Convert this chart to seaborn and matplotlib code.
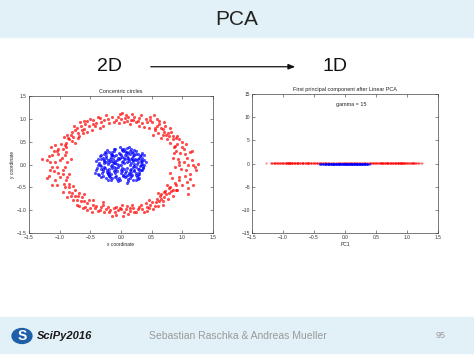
import matplotlib
matplotlib.use("Agg")
import matplotlib.pyplot as plt
import matplotlib.patches as mpatches
import seaborn as sns
import pandas as pd

# ---- data: outer ring (class 0, red) ----
red_points = [
    (1.02, 0.05), (1.10, -0.02), (0.93, 0.12), (1.15, 0.10), (0.98, -0.10), (1.05, 0.22), (0.90, 0.30), (1.12, -0.20),
    (0.95, -0.28), (1.20, -0.05), (0.88, -0.05), (1.03, 0.35), (1.08, -0.38), (0.92, 0.45), (1.00, -0.45), (1.10, -0.65),
    (1.18, 0.00), (0.97, 0.25), (1.06, -0.12),
    (0.85, 0.55), (0.78, 0.62), (0.92, 0.62), (0.70, 0.72), (0.75, 0.55), (0.65, 0.80), (0.58, 0.85), (0.62, 0.95),
    (0.50, 0.92), (0.45, 0.80), (0.40, 1.00), (0.55, 0.75), (0.82, 0.72), (0.68, 0.65), (0.35, 0.90), (0.30, 1.02),
    (0.48, 1.05), (0.88, 0.40), (0.72, 0.85), (0.60, 0.70),
    (0.20, 0.98), (0.12, 1.05), (0.05, 0.92), (-0.02, 1.10), (-0.08, 0.98), (0.15, 0.88), (0.25, 0.92), (-0.15, 1.05),
    (0.00, 1.00), (0.08, 1.08), (-0.20, 0.90), (0.18, 1.10),
    (-0.28, 0.98), (-0.35, 1.02), (-0.40, 0.90), (-0.45, 0.98), (-0.52, 0.85), (-0.55, 0.95), (-0.60, 0.78), (-0.65, 0.85),
    (-0.70, 0.70), (-0.72, 0.80), (-0.78, 0.60), (-0.80, 0.72), (-0.85, 0.55), (-0.75, 0.48), (-0.68, 0.62), (-0.30, 0.85),
    (-0.48, 0.75), (-0.88, 0.65), (-0.62, 0.68), (-0.90, 0.48),
    (-0.95, 0.35), (-1.05, 0.30), (-1.12, 0.20), (-0.92, 0.20), (-1.00, 0.10), (-1.15, 0.05), (-0.88, 0.05), (-1.28, 0.13),
    (-1.05, -0.05), (-0.95, -0.12), (-1.10, -0.15), (-1.18, -0.25), (-0.85, -0.20), (-1.00, -0.28), (-1.13, -0.45),
    (-0.90, -0.35), (-1.08, 0.42), (-0.98, 0.45), (-1.20, 0.10), (-0.93, -0.42),
    (-0.85, -0.50), (-0.80, -0.62), (-0.75, -0.55), (-0.88, -0.72), (-0.70, -0.70), (-0.65, -0.80), (-0.60, -0.65),
    (-0.72, -0.88), (-0.55, -0.85), (-0.50, -0.95), (-0.45, -0.78), (-0.40, -0.90), (-0.35, -1.00), (-0.30, -0.88),
    (-0.62, -0.95), (-0.78, -0.78), (-0.48, -1.05), (-0.95, -0.60), (-0.25, -0.98), (-0.20, -1.05),
    (-0.12, -0.95), (-0.08, -1.10), (0.00, -0.98), (0.05, -1.05), (0.10, -0.90), (0.15, -1.02), (-0.15, -1.12),
    (0.20, -0.95), (0.02, -0.88), (-0.05, -1.00),
    (0.25, -1.05), (0.30, -0.92), (0.35, -0.98), (0.40, -0.85), (0.45, -0.95), (0.50, -0.82), (0.55, -0.90), (0.58, -0.75),
    (0.62, -0.80), (0.65, -0.65), (0.70, -0.72), (0.72, -0.58), (0.78, -0.62), (0.80, -0.50), (0.85, -0.55), (0.88, -0.40),
    (0.75, -0.45), (0.60, -0.62), (0.42, -1.02), (0.92, -0.55), (0.68, -0.88),
    (1.15, 0.30), (0.85, 0.15), (1.22, -0.12), (0.80, -0.18), (1.08, 0.15), (0.95, 0.05), (1.13, -0.32), (0.87, 0.38),
    (1.00, 0.50), (0.83, -0.30), (1.17, -0.45), (0.90, -0.55), (1.04, -0.25), (0.99, 0.38), (1.12, 0.28), (1.06, 0.45),
    (0.94, -0.02), (1.25, 0.02), (1.09, -0.52), (0.86, 0.25),
    (0.95, 0.55), (0.80, 0.80), (0.70, 0.92), (0.58, 1.00), (0.52, 0.65), (0.66, 0.58), (0.77, 0.70), (0.43, 0.92),
    (0.38, 0.82), (0.33, 1.08), (0.62, 0.88), (0.85, 0.62), (0.74, 0.64), (0.56, 0.80), (0.47, 0.98), (0.28, 0.95),
    (0.90, 0.58), (0.68, 0.78), (0.80, 0.48), (0.53, 1.08),
    (0.22, 1.05), (0.10, 0.95), (-0.05, 1.05), (-0.12, 0.92), (0.02, 1.12), (0.30, 0.85), (-0.22, 1.00), (0.16, 0.98),
    (-0.03, 0.90), (0.07, 1.02),
    (-0.25, 1.08), (-0.32, 0.92), (-0.38, 1.05), (-0.42, 0.85), (-0.50, 1.00), (-0.58, 0.88), (-0.63, 0.75), (-0.67, 0.92),
    (-0.75, 0.75), (-0.82, 0.65), (-0.77, 0.85), (-0.87, 0.58), (-0.93, 0.60), (-0.70, 0.58), (-0.55, 0.72), (-0.45, 0.88),
    (-0.80, 0.52), (-0.60, 0.95), (-0.35, 0.80), (-0.92, 0.42),
    (-1.02, 0.35), (-1.10, 0.30), (-0.90, 0.28), (-1.18, 0.18), (-0.97, 0.15), (-1.08, 0.05), (-0.82, 0.12), (-1.13, -0.05),
    (-0.92, -0.05), (-1.02, -0.18), (-1.15, -0.12), (-0.88, -0.28), (-1.07, -0.35), (-0.95, -0.20), (-1.20, -0.30),
    (-0.85, -0.42), (-1.02, 0.22), (-1.14, 0.38), (-0.90, 0.38), (-1.05, -0.45),
    (-0.92, -0.50), (-0.82, -0.70), (-0.78, -0.48), (-0.68, -0.62), (-0.72, -0.78), (-0.63, -0.72), (-0.58, -0.92),
    (-0.52, -0.78), (-0.45, -0.88), (-0.38, -1.02), (-0.42, -0.95), (-0.33, -0.92), (-0.28, -1.05), (-0.68, -0.90),
    (-0.85, -0.60), (-0.55, -1.00), (-0.75, -0.68), (-0.60, -0.80), (-0.30, -0.82), (-0.22, -0.92),
    (-0.18, -1.00), (-0.10, -1.05), (0.03, -1.12), (0.08, -0.98), (0.12, -1.08), (0.18, -0.88), (-0.02, -0.95),
    (0.22, -1.05), (-0.08, -0.92), (0.14, -0.96),
    (0.28, -0.98), (0.33, -0.88), (0.38, -1.05), (0.42, -0.92), (0.48, -0.88), (0.52, -0.98), (0.57, -0.82), (0.60, -0.90),
    (0.65, -0.75), (0.68, -0.80), (0.73, -0.65), (0.76, -0.75), (0.82, -0.58), (0.85, -0.68), (0.90, -0.45), (0.78, -0.52),
    (0.70, -0.60), (0.63, -0.68), (0.45, -0.78), (0.95, -0.35),
]

# ---- inner cluster (class 1, blue) ----
blue_points = [
    (0.00, 0.00), (0.10, 0.05), (-0.10, 0.08), (0.05, -0.10), (-0.05, -0.05), (0.20, 0.10), (-0.20, -0.10), (0.15, -0.20),
    (-0.15, 0.20), (0.25, -0.05), (-0.25, 0.05), (0.30, 0.15), (-0.30, -0.15), (0.08, 0.25), (-0.08, -0.25), (0.18, 0.28),
    (-0.18, -0.28), (0.28, -0.22), (-0.28, 0.22), (0.35, 0.02), (-0.35, -0.02), (0.02, 0.32), (-0.02, -0.35),
    (0.12, -0.32), (-0.12, 0.30), (0.22, 0.20), (-0.22, -0.20), (0.32, -0.12), (-0.32, 0.12), (0.05, 0.15), (-0.05, 0.15),
    (0.15, 0.00), (-0.15, 0.00), (0.00, -0.18), (0.00, 0.20), (0.25, 0.30), (-0.25, -0.30), (0.10, -0.40), (-0.38, -0.20),
    (-0.42, -0.18), (0.35, 0.25), (0.30, -0.30), (-0.10, 0.35), (0.20, -0.35), (-0.20, 0.28), (0.13, 0.38), (0.40, 0.05),
    (-0.40, 0.08), (0.08, -0.15), (-0.12, -0.15), (0.18, 0.15), (-0.18, 0.12), (0.28, 0.05), (-0.28, -0.05), (0.04, 0.08),
    (-0.06, 0.02), (0.12, 0.12), (-0.14, -0.08), (0.22, -0.12), (-0.24, 0.14), (0.06, -0.28), (-0.04, 0.26), (0.32, 0.20),
    (-0.30, -0.25), (0.16, -0.26), (-0.16, 0.24), (0.26, -0.28), (-0.26, 0.28), (0.36, -0.08), (-0.36, 0.04), (0.02, -0.08),
    (0.09, 0.18), (-0.09, -0.12), (0.19, -0.06), (-0.21, 0.02), (0.24, 0.22), (-0.03, 0.12), (0.14, -0.12), (-0.11, 0.18),
    (0.29, -0.16), (-0.33, -0.10), (0.07, 0.30), (-0.07, -0.32), (0.17, 0.34), (-0.17, -0.34), (0.33, 0.10), (-0.34, 0.18),
    (0.11, -0.22), (-0.01, 0.38), (0.21, 0.02), (-0.23, -0.16), (0.27, 0.12), (-0.13, 0.06), (0.03, -0.22), (0.38, -0.02),
    (-0.39, -0.08), (0.14, 0.22), (-0.19, -0.22), (0.31, -0.04), (-0.27, 0.10),
    (0.05, 0.03), (-0.03, -0.02), (0.13, 0.08), (-0.13, 0.11), (0.09, -0.07), (-0.08, -0.08), (0.23, 0.13), (-0.23, -0.12),
    (0.17, -0.17), (-0.17, 0.17), (0.27, -0.09), (-0.27, 0.07), (0.31, 0.18), (-0.31, -0.19), (0.10, 0.27), (-0.10, -0.27),
    (0.20, 0.25), (-0.20, -0.25), (0.25, -0.19), (-0.25, 0.19), (0.33, 0.05), (-0.33, -0.04), (0.04, 0.29), (-0.04, -0.30),
    (0.14, -0.29), (-0.14, 0.27), (0.19, 0.19), (-0.19, -0.17), (0.29, -0.10), (-0.29, 0.15), (0.07, 0.12), (-0.07, 0.10),
    (0.17, 0.03), (-0.17, -0.03), (0.02, -0.14), (0.02, 0.17), (0.22, 0.32), (-0.22, -0.33), (0.12, -0.36), (-0.36, -0.24),
    (0.37, 0.20), (0.27, -0.32), (-0.12, 0.33), (0.24, -0.33), (-0.23, 0.31), (0.09, 0.36), (0.37, 0.10), (-0.38, 0.12),
    (0.06, -0.18), (-0.10, -0.19), (0.16, 0.12), (-0.16, 0.08), (0.26, 0.02), (-0.26, -0.08), (0.01, 0.05), (-0.09, 0.04),
    (0.11, 0.14), (-0.11, -0.05), (0.21, -0.15), (-0.21, 0.10), (0.08, -0.25), (-0.02, 0.23), (0.34, 0.15), (-0.32, -0.28),
    (0.18, -0.23), (-0.14, 0.21), (0.24, -0.24), (-0.24, 0.25), (0.34, -0.13), (-0.37, 0.00), (0.00, -0.11), (0.07, 0.21),
    (-0.06, -0.15), (0.21, -0.03), (-0.19, 0.05), (0.28, 0.24), (-0.01, 0.14), (0.16, -0.09), (-0.08, 0.20), (0.30, -0.20),
    (-0.30, -0.09), (0.05, 0.34), (-0.05, -0.36), (0.15, 0.30), (-0.15, -0.30), (0.35, 0.07), (-0.32, 0.21), (0.13, -0.19),
    (0.01, 0.35), (0.19, 0.07), (-0.21, -0.19), (0.25, 0.09), (-0.12, 0.03), (0.04, -0.26), (0.36, -0.05), (-0.40, -0.12),
    (0.12, 0.25), (-0.17, -0.21), (0.32, -0.02), (-0.28, 0.04),
]

pc1_red_offset = 0.1
pc1_blue_offset = -0.2

ticks_x = [-1.5, -1.0, -0.5, 0.0, 0.5, 1.0, 1.5]
ticks_y_left = [-1.5, -1.0, -0.5, 0.0, 0.5, 1.0, 1.5]
ticks_y_right = [-15, -10, -5, 0, 5, 10, 15]

# ---- figure ----
sns.set_style("white")
plt.rcParams['font.family'] = ['Liberation Sans', 'DejaVu Sans']
fig = plt.figure(figsize=(4.74, 3.55), dpi=100)
band = "#e2f0f7"
fig.patches.append(mpatches.Rectangle((0, 0.896), 1, 0.104, transform=fig.transFigure, color=band, zorder=0))
fig.patches.append(mpatches.Rectangle((0, 0.006), 1, 0.101, transform=fig.transFigure, color=band, zorder=0))
fig.text(0.5, 0.944, "PCA", ha="center", va="center", fontsize=15, color="#222222")
fig.text(0.231, 0.812, "2D", ha="center", va="center", fontsize=14, color="#111111")
fig.text(0.707, 0.812, "1D", ha="center", va="center", fontsize=14, color="#111111")
fig.add_artist(mpatches.FancyArrowPatch((148 / 474, 0.812), (298 / 474, 0.812), transform=fig.transFigure,
                                        arrowstyle="-|>,head_length=4,head_width=1.6", lw=0.9, color="#111111"))

# footer
fig.patches.append(mpatches.Circle((22 / 474, 1 - 336 / 355), 0.021, transform=fig.transFigure, color="#1f5fa8", zorder=2))
fig.text(22 / 474, 1 - 336 / 355, "S", ha="center", va="center", fontsize=10, color="white", fontweight="bold", zorder=3)
fig.text(37 / 474, 1 - 336 / 355, "SciPy2016", ha="left", va="center", fontsize=8, fontweight="bold", fontstyle="italic", color="#1a1a1a")
fig.text(238 / 474, 1 - 336 / 355, "Sebastian Raschka & Andreas Mueller", ha="center", va="center", fontsize=7.5, color="#9a9a9a")
fig.text(441 / 474, 1 - 336 / 355, "95", ha="center", va="center", fontsize=6.5, color="#9a9a9a")

ax1 = fig.add_axes([29 / 474, 1 - 233 / 355, 184 / 474, 137 / 355])
ax2 = fig.add_axes([252 / 474, 1 - 233 / 355, 186 / 474, 139 / 355])

df_red = pd.DataFrame(red_points, columns=["x", "y"])
df_blue = pd.DataFrame(blue_points, columns=["x", "y"])
kw = dict(s=5, alpha=0.7, linewidth=0, marker="o")
sns.scatterplot(data=df_red, x="x", y="y", color="red", ax=ax1, **kw)
sns.scatterplot(data=df_blue, x="x", y="y", color="blue", ax=ax1, **kw)

df_red2 = pd.DataFrame({"x": df_red["x"], "y": pc1_red_offset})
df_blue2 = pd.DataFrame({"x": df_blue["x"], "y": pc1_blue_offset})
kw2 = dict(s=2.5, alpha=0.45, linewidth=0, marker="o")
sns.scatterplot(data=df_red2, x="x", y="y", color="red", ax=ax2, **kw2)
sns.scatterplot(data=df_blue2, x="x", y="y", color="blue", ax=ax2, **kw2)

for ax, yt in ((ax1, ticks_y_left), (ax2, ticks_y_right)):
    ax.set_xlim(-1.5, 1.5)
    ax.set_xticks(ticks_x)
    ax.set_ylim(yt[0], yt[-1])
    ax.set_yticks(yt)
    ax.tick_params(direction="in", length=2, width=0.4, labelsize=3.5, pad=1.5,
                   top=True, right=True, bottom=True, left=True, colors="#333333")
    for sp in ax.spines.values():
        sp.set_linewidth(0.5)
        sp.set_color("#444444")

ax1.set_xticklabels([f"{t:.1f}".replace("-", "\u2212") for t in ticks_x])
ax1.set_yticklabels([f"{t:.1f}".replace("-", "\u2212") for t in ticks_y_left])
ax2.set_xticklabels([f"{t:.1f}".replace("-", "\u2212") for t in ticks_x])
ax2.set_yticklabels([f"{t}".replace("-", "\u2212") for t in ticks_y_right])

ax1.set_title("Concentric circles", fontsize=4, pad=2)
ax1.set_xlabel("x coordinate", fontsize=3.5, labelpad=1.5)
ax1.set_ylabel("y coordinate", fontsize=3.5, labelpad=1.5)
ax2.set_title("First principal component after Linear PCA", fontsize=4, pad=2)
ax2.set_xlabel("PC1", fontsize=3.5, labelpad=1.5)
ax2.set_ylabel("")
ax2.text(0.1, 12.8, "gamma = 15", fontsize=4, ha="center", va="center")

fig.savefig("out.png", dpi=100)
